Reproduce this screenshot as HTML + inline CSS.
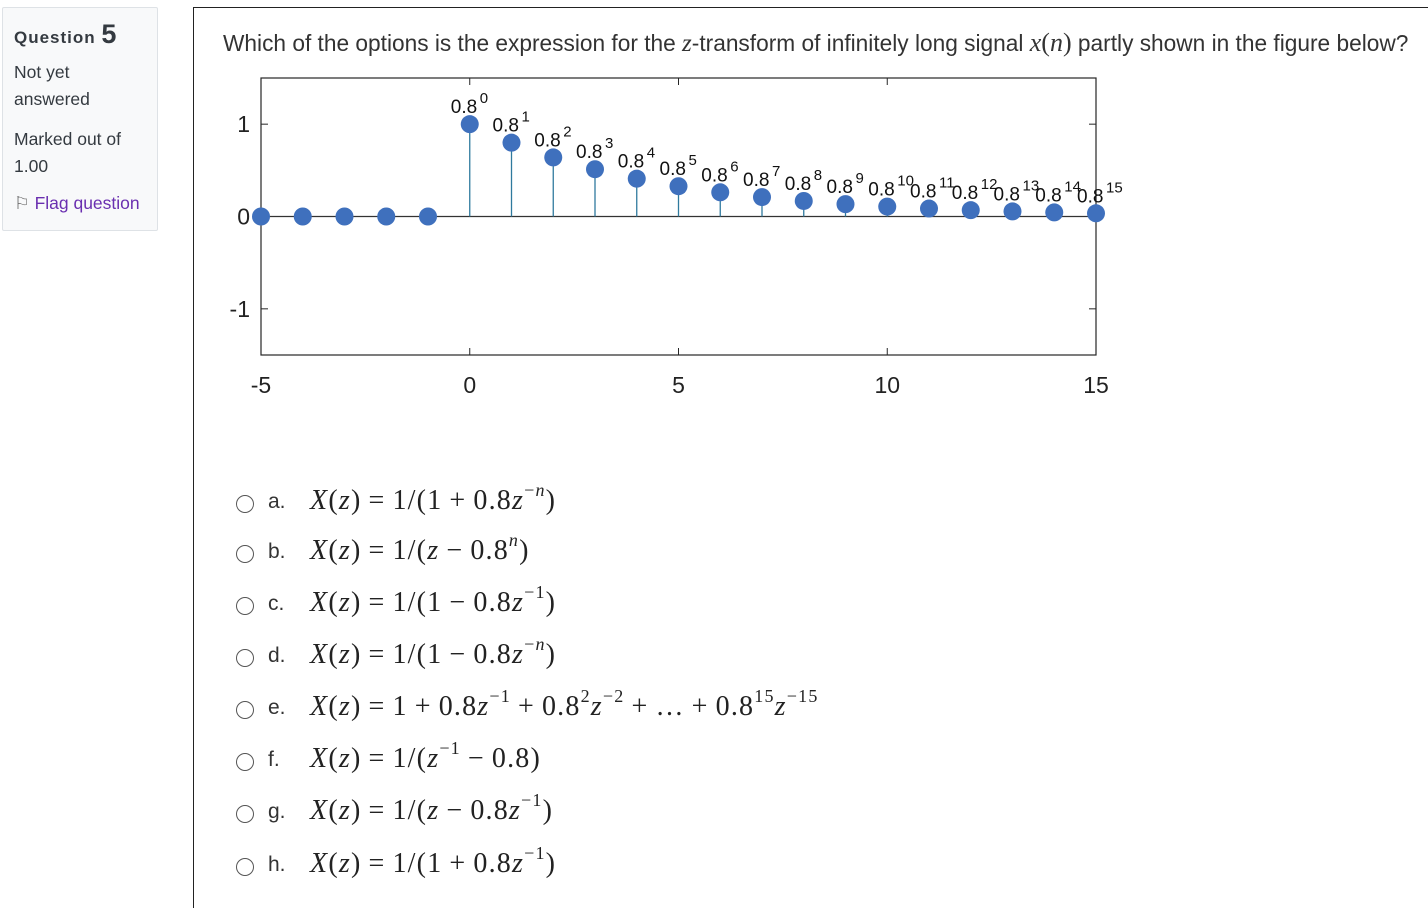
<!DOCTYPE html>
<html><head><meta charset="utf-8"><style>
body{margin:0;width:1428px;height:896px;background:#fff;font-family:"Liberation Sans",sans-serif;position:relative;overflow:hidden}
.info{position:absolute;left:2px;top:7px;width:156px;height:224px;background:#f8f9fa;border:1px solid #dee2e6;border-radius:2px;box-sizing:border-box;color:#343a40}
.qbox{position:absolute;left:193px;top:7px;width:1240px;height:900px;border-left:1.5px solid #222;border-top:1.5px solid #222}
.q{position:absolute;left:223px;top:28px;font-size:22.7px;color:#333;white-space:nowrap}
.m{font-family:"Liberation Serif",serif;font-style:italic}
.opt{position:absolute;left:236px;height:30px;font-size:21px;color:#333}
.opt .r{position:absolute;left:0;top:2px;width:16px;height:16px;border:1.5px solid #555;border-radius:50%}
.opt .l{position:absolute;left:32px;top:-3px}
.opt .e{position:absolute;left:74px;top:-8px;font-family:"Liberation Serif",serif;font-size:28px;white-space:nowrap;color:#222;letter-spacing:1.2px}
.e i{font-style:italic}
.e b{font-weight:normal;display:inline-block;padding:0 7px}
.e sup{font-size:18px;vertical-align:13px;line-height:0}
</style></head><body>
<div class="info">
<div style="position:absolute;left:11px;top:11px;font-weight:bold;font-size:17px;letter-spacing:1px">Question <span style="font-size:27px;letter-spacing:0">5</span></div>
<div style="position:absolute;left:11px;top:51px;font-size:17.5px;line-height:27px">Not yet<br>answered</div>
<div style="position:absolute;left:11px;top:118px;font-size:17.5px;line-height:27px">Marked out of<br>1.00</div>
<div style="position:absolute;left:11px;top:185px;font-size:17.5px;color:#6a2fb0"><span style="color:#666">⚐</span> Flag question</div>
</div>
<div class="qbox"></div>
<div class="q">Which of the options is the expression for the <span class="m" style="font-size:25px">z</span>-transform of infinitely long signal <span class="m" style="font-size:26px">x</span><span style="font-family:'Liberation Serif',serif;font-size:26px">(</span><span class="m" style="font-size:26px">n</span><span style="font-family:'Liberation Serif',serif;font-size:26px">)</span> partly shown in the figure below?</div>
<svg id="chart" width="1428" height="440" style="position:absolute;left:0;top:0"></svg>
<div id="opts"></div>
<script>
const xs=[-5,-4,-3,-2,-1,0,1,2,3,4,5,6,7,8,9,10,11,12,13,14,15];
const vals=[0,0,0,0,0,1,0.8,0.64,0.512,0.41,0.328,0.262,0.21,0.168,0.134,0.107,0.086,0.069,0.055,0.044,0.035];
const xTicks=[-5,0,5,10,15];
const yTicks=[-1,0,1];
const NS="http://www.w3.org/2000/svg";
const L=261,R=1096,T=78,B=355;
const X=v=>L+(v+5)/20*(R-L);
const Y=v=>T+(1.5-v)/3*(B-T);
const svg=document.getElementById('chart');
function mk(t,a,p){const e=document.createElementNS(NS,t);for(const k in a)e.setAttribute(k,a[k]);(p||svg).appendChild(e);return e;}
const box=mk('rect',{x:L,y:T,width:R-L,height:B-T,fill:'none',stroke:'#262626','stroke-width':1.2});


xTicks.forEach(t=>{
 mk('line',{x1:X(t),x2:X(t),y1:T,y2:T+7,stroke:'#262626'});
 mk('line',{x1:X(t),x2:X(t),y1:B,y2:B-7,stroke:'#262626'});
 const tx=mk('text',{x:X(t),y:393,'text-anchor':'middle','font-size':23,fill:'#222'});tx.textContent=t;
 
 
});
yTicks.forEach(t=>{
 mk('line',{x1:L,x2:L+7,y1:Y(t),y2:Y(t),stroke:'#262626'});
 mk('line',{x1:R,x2:R-7,y1:Y(t),y2:Y(t),stroke:'#262626'});
 const tx=mk('text',{x:250,y:Y(t)+8,'text-anchor':'end','font-size':23,fill:'#222'});tx.textContent=t;
 
 
});
const base=mk('line',{x1:L,x2:R,y1:Y(0),y2:Y(0),stroke:'#333','stroke-width':1.3});


xs.forEach((n,i)=>{
 const v=vals[i];
 const s=mk('line',{x1:X(n),x2:X(n),y1:Y(0),y2:Y(v),stroke:'#2f7a9e','stroke-width':1.3});
 
 
 const c=mk('circle',{cx:X(n),cy:Y(v),r:9,fill:'#3f70bd'});
 
 
 if(n>=0){
  const t=mk('text',{x:X(n)-19,y:Y(v)-11,'font-size':19,fill:'#111'});
  t.textContent='0.8';
  
  
  const sp=mk('text',{x:X(n)+10,y:Y(v)-21,'font-size':15,fill:'#111'});sp.textContent=n;
 }
});
const opts=[['a.','<i>X</i>(<i>z</i>)<b>=</b>1/(1<b>+</b>0.8<i>z</i><sup>−<i>n</i></sup>)'],
['b.','<i>X</i>(<i>z</i>)<b>=</b>1/(<i>z</i><b>−</b>0.8<sup><i>n</i></sup>)'],
['c.','<i>X</i>(<i>z</i>)<b>=</b>1/(1<b>−</b>0.8<i>z</i><sup>−1</sup>)'],
['d.','<i>X</i>(<i>z</i>)<b>=</b>1/(1<b>−</b>0.8<i>z</i><sup>−<i>n</i></sup>)'],
['e.','<i>X</i>(<i>z</i>)<b>=</b>1<b>+</b>0.8<i>z</i><sup>−1</sup><b>+</b>0.8<sup>2</sup><i>z</i><sup>−2</sup><b>+</b>…<b>+</b>0.8<sup>15</sup><i>z</i><sup>−15</sup>'],
['f.','<i>X</i>(<i>z</i>)<b>=</b>1/(<i>z</i><sup>−1</sup><b>−</b>0.8)'],
['g.','<i>X</i>(<i>z</i>)<b>=</b>1/(<i>z</i><b>−</b>0.8<i>z</i><sup>−1</sup>)'],
['h.','<i>X</i>(<i>z</i>)<b>=</b>1/(1<b>+</b>0.8<i>z</i><sup>−1</sup>)']];
const tops=[493,543,595,647,699,751,803,856];
const od=document.getElementById('opts');
opts.forEach((o,i)=>{
 const d=document.createElement('div');d.className='opt';d.style.top=tops[i]+'px';
 
 
 d.innerHTML='<div class="r"></div><span class="l">'+o[0]+'</span><span class="e">'+o[1]+'</span>';
 od.appendChild(d);
});
</script>
</body></html>
